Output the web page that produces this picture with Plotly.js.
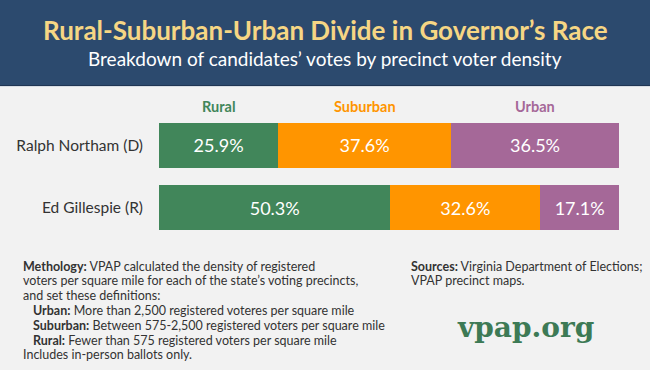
<!DOCTYPE html>
<html><head><meta charset="utf-8">
<script src="https://cdn.plot.ly/plotly-3.0.1.min.js"></script>
<style>html,body{margin:0;padding:0;background:#f2f2f2;}#chart{width:650px;height:370px;}</style>
</head><body><div id="chart"></div>
<script>
const candidates = ["Ralph Northam (D)", "Ed Gillespie (R)"];
const seriesNames = ["Rural", "Suburban", "Urban"];
const rural = [25.9, 50.3];
const suburban = [37.6, 32.6];
const urban = [36.5, 17.1];
const seriesValues = [rural, suburban, urban];
const seriesColors = ["#41865a", "#ff9500", "#a56898"];

const titleText = "Rural-Suburban-Urban Divide in Governor’s Race";
const subtitleText = "Breakdown of candidates’ votes by precinct voter density";
const methodLines = [
  ["<b>Methology:</b> VPAP calculated the density of registered", 0],
  ["voters per square mile for each of the state’s voting precincts,", 0],
  ["and set these definitions:", 0],
  ["<b>Urban:</b> More than 2,500 registered voteres per square mile", 1],
  ["<b>Suburban:</b> Between 575-2,500 registered voters per square mile", 1],
  ["<b>Rural:</b> Fewer than 575 registered voters per square mile", 1],
  ["Includes in-person ballots only.", 0]
];
const sourceLines = ["<b>Sources:</b> Virginia Department of Elections;", "VPAP precinct maps."];
const brand = "vpap.org";

const W = 650, H = 370;
const M = {l: 159, r: 31, t: 114, b: 131};
const pw = W - M.l - M.r, ph = H - M.t - M.b;
const px = x => (x - M.l) / pw;
const py = y => (H - M.b - y) / ph;

const font = "Lato, 'Open Sans', sans-serif";

const traces = seriesNames.map((name, i) => ({
  type: "bar",
  orientation: "h",
  name: name,
  y: candidates,
  x: seriesValues[i],
  text: seriesValues[i].map(v => v.toFixed(1) + "%"),
  textposition: "inside",
  insidetextanchor: "middle",
  textfont: {family: font, size: 18, color: "#ffffff"},
  marker: {color: seriesColors[i], line: {width: 0}},
  hoverinfo: "none"
}));

const annotations = [];
let cum = 0;
seriesNames.forEach((name, i) => {
  const v = seriesValues[i][0];
  annotations.push({
    xref: "x", yref: "paper", x: cum + v / 2, y: py(106),
    text: "<b>" + name + "</b>", showarrow: false,
    xanchor: "center", yanchor: "middle",
    font: {family: font, size: 14.5, color: seriesColors[i]}
  });
  cum += v;
});
annotations.push({
  xref: "paper", yref: "paper", x: px(325), y: py(30), text: "<b>" + titleText + "</b>",
  showarrow: false, xanchor: "center", yanchor: "middle",
  font: {family: font, size: 26, color: "#f6d684"}
});
annotations.push({
  xref: "paper", yref: "paper", x: px(325), y: py(58), text: subtitleText,
  showarrow: false, xanchor: "center", yanchor: "middle",
  font: {family: font, size: 19, color: "#ffffff"}
});
methodLines.forEach((ln, i) => {
  annotations.push({
    xref: "paper", yref: "paper", x: px(ln[1] ? 31 : 21), y: py(266 + i * 14.8), text: ln[0],
    showarrow: false, xanchor: "left", yanchor: "middle",
    font: {family: font, size: 12.5, color: "#333333"}
  });
});
sourceLines.forEach((t, i) => {
  annotations.push({
    xref: "paper", yref: "paper", x: px(409), y: py(266 + i * 14.8), text: t,
    showarrow: false, xanchor: "left", yanchor: "middle",
    font: {family: font, size: 12.5, color: "#333333"}
  });
});
annotations.push({
  xref: "paper", yref: "paper", x: px(525), y: py(327), text: "<b>" + brand + "</b>",
  showarrow: false, xanchor: "center", yanchor: "middle",
  font: {family: "'DejaVu Serif', serif", size: 28, color: "#3d7a55"}
});

const layout = {
  width: W, height: H,
  margin: M,
  paper_bgcolor: "#f2f2f2", plot_bgcolor: "#f2f2f2",
  barmode: "stack", bargap: 0.28,
  showlegend: false,
  xaxis: {range: [0, 100], visible: false, fixedrange: true},
  yaxis: {autorange: "reversed", showgrid: false, zeroline: false, showline: false,
    ticks: "", ticklabelstandoff: 15,
    tickfont: {family: font, size: 15.5, color: "#333333"}, fixedrange: true},
  shapes: [
    {type: "rect", xref: "paper", yref: "paper", x0: px(0), x1: px(W), y0: py(0), y1: py(85),
      fillcolor: "#2c4a6e", line: {width: 0}, layer: "below"},
    {type: "line", xref: "paper", yref: "paper", x0: px(0), x1: px(W), y0: py(85.5), y1: py(85.5),
      line: {color: "#1f3553", width: 1}},
    {type: "line", xref: "paper", yref: "paper", x0: px(0), x1: px(W), y0: py(86.5), y1: py(86.5),
      line: {color: "#d8dde3", width: 1}}
  ],
  annotations: annotations
};

Plotly.newPlot("chart", traces, layout, {displayModeBar: false, staticPlot: true});
</script></body></html>
